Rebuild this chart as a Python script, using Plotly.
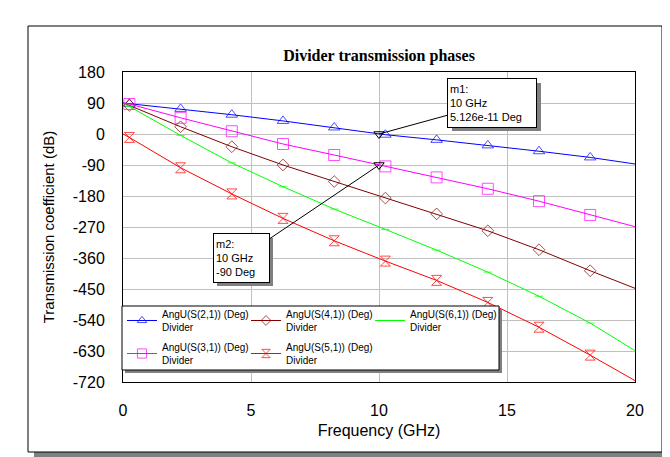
import plotly.graph_objects as go

# frequency points (GHz) - markers sit at the x.25 points, ends have no marker
freq = [0, 0.25, 2.25, 4.25, 6.25, 8.25, 10.25, 12.25, 14.25, 16.25, 18.25, 20]

# phases in deg
s21 = [90, 88, 73, 56, 38, 19, -2, -17, -33, -50, -68, -87]
s41 = [90, 83, 21, -37, -90, -138, -186, -232, -281, -336, -397, -448]
s61 = [90, 80, -4, -84, -153, -218, -277, -337, -401, -471, -549, -629]
s31 = [90, 87, 47, 8, -29, -61, -94, -126, -159, -195, -235, -269]
s51 = [0, -10, -98, -174, -245, -310, -369, -425, -489, -561, -642, -716]

y_ticks = [180, 90, 0, -90, -180, -270, -360, -450, -540, -630, -720]
x_ticks = [0, 5, 10, 15, 20]

# markers m1 / m2
m_freq = 10
m1_val = 5.126e-11
m2_val = -90

# page has an 8px body margin, so the figure is 8px smaller and shifted
# plot area in window pixels: x 123..635, y 72..382
def px(x):
    return (x - 123) / 512

def py(y):
    return (382 - y) / 310

fig = go.Figure()

# (name, values, colour, symbol, size, legend id)
series = [
    ("AngU(S(2,1)) (Deg)<br>Divider", s21, "#0000ff", "triangle-up-open", 10, "legend"),
    ("AngU(S(4,1)) (Deg)<br>Divider", s41, "#800000", "diamond-open", 9, "legend2"),
    ("AngU(S(6,1)) (Deg)<br>Divider", s61, "#00ff00", "line-ew-open", 6, "legend3"),
    ("AngU(S(3,1)) (Deg)<br>Divider", s31, "#ff00ff", "square-open", 11, "legend4"),
    ("AngU(S(5,1)) (Deg)<br>Divider", s51, "#ff0000", "hourglass-open", 10, "legend5"),
]

for name, vals, col, sym, sz, leg in series:
    sizes = [0] + [sz] * (len(freq) - 2) + [0]
    fig.add_trace(go.Scatter(
        x=freq, y=vals, name=name, mode="lines+markers", legend=leg,
        line=dict(color=col, width=1),
        marker=dict(symbol=sym, size=sizes, color=col, line=dict(color=col, width=1)),
    ))

# marker symbols m1, m2
fig.add_trace(go.Scatter(
    x=[m_freq, m_freq], y=[m1_val, m2_val], mode="markers", showlegend=False,
    marker=dict(symbol="triangle-down-open", size=9, color="black", line=dict(color="black", width=1)),
))

ann_font = dict(family="Liberation Sans, Arial", size=11, color="black")
fig.add_annotation(
    x=m_freq, y=m1_val, ax=113, ay=-31,
    text=f"m1:<br>{m_freq} GHz<br>{m1_val:.3e} Deg",
    showarrow=True, arrowhead=0, arrowwidth=1, arrowcolor="black",
    align="left", font=ann_font, bgcolor="white", bordercolor="black",
    borderwidth=1, borderpad=2, width=84, height=44,
)
fig.add_annotation(
    x=m_freq, y=m2_val, ax=-138, ay=93,
    text=f"m2:<br>{m_freq} GHz<br>{m2_val} Deg",
    showarrow=True, arrowhead=0, arrowwidth=1, arrowcolor="black",
    align="left", font=ann_font, bgcolor="white", bordercolor="black",
    borderwidth=1, borderpad=2, width=51, height=44,
)

shapes = [
    # outer frame + shadow
    dict(type="rect", xref="paper", yref="paper", x0=px(34), x1=px(670), y0=py(458), y1=py(32),
         fillcolor="#808080", line=dict(width=0), layer="below"),
    dict(type="rect", xref="paper", yref="paper", x0=px(28), x1=px(662), y0=py(452), y1=py(26),
         fillcolor="white", line=dict(color="black", width=1), layer="below"),
    # legend box + shadow
    dict(type="rect", xref="paper", yref="paper", x0=px(125), x1=px(502), y0=py(373), y1=py(309),
         fillcolor="#808080", line=dict(width=0), layer="above"),
    dict(type="rect", xref="paper", yref="paper", x0=px(122), x1=px(499), y0=py(370), y1=py(306),
         fillcolor="white", line=dict(color="black", width=1), layer="above"),
    # callout shadows
    dict(type="rect", xref="paper", yref="paper", x0=px(452), x1=px(541), y0=py(131), y1=py(83),
         fillcolor="#808080", line=dict(width=0), layer="above"),
    dict(type="rect", xref="paper", yref="paper", x0=px(217), x1=px(273), y0=py(286), y1=py(238),
         fillcolor="#808080", line=dict(width=0), layer="above"),
]

axis_font = dict(family="Liberation Sans, Arial", size=16, color="black")
leg_font = dict(family="Liberation Sans, Arial", size=10, color="black")

# one legend per entry, laid out as 3 + 2 inside the drawn box
leg_pos = {"legend": (122, 301), "legend2": (246, 301), "legend3": (370, 301),
           "legend4": (122, 334), "legend5": (246, 334)}
legends = {}
for key, (lx, ly) in leg_pos.items():
    legends[key] = dict(orientation="h", x=px(lx), y=py(ly), xanchor="left", yanchor="top",
                        bgcolor="rgba(0,0,0,0)", borderwidth=0, font=leg_font,
                        itemwidth=30, tracegroupgap=0)

fig.update_layout(
    width=662, height=449,
    margin=dict(l=115, r=35, t=64, b=75, autoexpand=False),
    paper_bgcolor="white", plot_bgcolor="white",
    title=dict(text="<b>Divider transmission phases</b>",
               font=dict(family="Liberation Serif, Times New Roman", size=16, color="black"),
               x=0.5, xref="paper", y=1 - 47 / 449, yref="container", yanchor="middle"),
    xaxis=dict(range=[0, 20], tickvals=x_ticks, ticktext=[str(v) for v in x_ticks],
               showgrid=True, gridcolor="#c0c0c0", gridwidth=1, zeroline=False,
               showline=True, linecolor="black", linewidth=1, mirror=True, ticks="",
               tickfont=axis_font, ticklabelstandoff=14, automargin=False,
               title=dict(text="Frequency (GHz)", font=axis_font, standoff=6)),
    yaxis=dict(range=[-720, 180], tickvals=y_ticks, ticktext=[str(v) for v in y_ticks],
               showgrid=True, gridcolor="#c0c0c0", gridwidth=1, zeroline=False,
               showline=True, linecolor="black", linewidth=1, mirror=True, ticks="",
               tickfont=axis_font, ticklabelstandoff=14, automargin=False,
               title=dict(text="Transmission coefficient (dB)",
                          font=dict(family="Liberation Sans, Arial", size=15, color="black"),
                          standoff=14)),
    shapes=shapes,
    **legends,
)

fig.write_html("out.html")
